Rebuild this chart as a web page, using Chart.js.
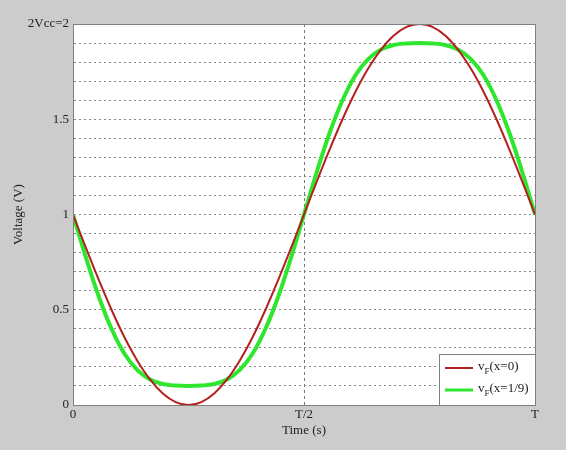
<!DOCTYPE html>
<html>
<head>
<meta charset="utf-8">
<script src="https://cdn.jsdelivr.net/npm/chart.js@4"></script>
<style>
  html, body { margin: 0; padding: 0; background: #cccccc; }
  #wrap { width: 566px; height: 450px; }
</style>
</head>
<body>
<div id="wrap"><canvas id="chart" width="566" height="450"></canvas></div>
<script>
// phase angle over one period (degrees), T = 360
const phase = [0, 10, 20, 30, 40, 50, 60, 70, 80, 90, 100, 110, 120, 130, 140, 150, 160, 170, 180,
  190, 200, 210, 220, 230, 240, 250, 260, 270, 280, 290, 300, 310, 320, 330, 340, 350, 360];

// v_F(x=0)
const vfX0 = [1, 0.826, 0.658, 0.5, 0.357, 0.234, 0.134, 0.06, 0.015, 0, 0.015, 0.06, 0.134, 0.234, 0.357, 0.5, 0.658, 0.826, 1,
  1.174, 1.342, 1.5, 1.643, 1.766, 1.866, 1.94, 1.985, 2, 1.985, 1.94, 1.866, 1.766, 1.643, 1.5, 1.342, 1.174, 1];

// v_F(x=1/9)
const vfX19 = [1, 0.776, 0.571, 0.4, 0.27, 0.184, 0.134, 0.11, 0.102, 0.1, 0.102, 0.11, 0.134, 0.184, 0.27, 0.4, 0.571, 0.776, 1,
  1.224, 1.429, 1.6, 1.73, 1.816, 1.866, 1.89, 1.898, 1.9, 1.898, 1.89, 1.866, 1.816, 1.73, 1.6, 1.429, 1.224, 1];

const xTickLabels = { 0: '0', 180: 'T/2', 360: 'T' };
const yTickLabels = { 0: '0', 5: '0.5', 10: '1', 15: '1.5', 20: '2Vcc=2' };

const seriesNames = ['x=0', 'x=1/9'];
const seriesColors = ['#b42020', '#2ee62e'];
const seriesWidths = [2, 4];

const serif = "'Liberation Serif', 'Times New Roman', serif";

// frame around the plot area plus the boxed legend in the lower right
const framePlugin = {
    id: 'frame',
    afterDraw(c) {
        const ctx = c.ctx;
        const a = c.chartArea;
        ctx.save();
        ctx.strokeStyle = '#808080';
        ctx.lineWidth = 1;
        ctx.strokeRect(a.left + 0.5, a.top + 0.5, a.right - a.left, a.bottom - a.top);

        // legend
        const bw = 96, bh = 51;
        const bx = a.right - bw, by = a.bottom - bh;
        ctx.fillStyle = '#ffffff';
        ctx.fillRect(bx, by, bw, bh);
        ctx.strokeRect(bx + 0.5, by + 0.5, bw, bh);
        seriesNames.forEach((name, i) => {
            const y = by + 14 + i * 22;
            ctx.strokeStyle = seriesColors[i];
            ctx.lineWidth = seriesWidths[i] === 2 ? 2 : 3;
            ctx.beginPath();
            ctx.moveTo(bx + 6, y);
            ctx.lineTo(bx + 34, y);
            ctx.stroke();
            ctx.fillStyle = '#222';
            ctx.textBaseline = 'alphabetic';
            ctx.textAlign = 'left';
            ctx.font = '13px ' + serif;
            let tx = bx + 39;
            ctx.fillText('v', tx, y + 2);
            tx += ctx.measureText('v').width;
            ctx.font = '9px ' + serif;
            ctx.fillText('F', tx, y + 6);
            tx += ctx.measureText('F').width;
            ctx.font = '13px ' + serif;
            ctx.fillText('(' + name + ')', tx, y + 2);
        });
        ctx.restore();
    }
};

const ctx = document.getElementById('chart').getContext('2d');
const chart = new Chart(ctx, {
    type: 'line',
    data: {
        datasets: seriesNames.map((name, i) => ({
            label: 'vF(' + name + ')',
            data: phase.map((p, j) => ({ x: p, y: [vfX0, vfX19][i][j] })),
            borderColor: seriesColors[i],
            borderWidth: seriesWidths[i],
            pointRadius: 0,
            tension: 0.4,
            fill: false
        }))
    },
    options: {
        responsive: false,
        animation: false,
        layout: { padding: { left: 0, top: 24, right: 31, bottom: 0 } },
        plugins: {
            legend: { display: false },
            tooltip: { enabled: false }
        },
        scales: {
            x: {
                type: 'linear',
                min: 0,
                max: 360,
                afterFit: s => { s.height = 45; },
                afterBuildTicks: s => { s.ticks = [0, 180, 360].map(v => ({ value: v })); },
                ticks: {
                    autoSkip: false,
                    maxRotation: 0,
                    padding: 2,
                    color: '#222',
                    font: { family: serif, size: 13 },
                    callback: v => xTickLabels[v]
                },
                grid: {
                    color: c => (c.tick && (c.tick.value === 0 || c.tick.value === 360)) ? 'rgba(0,0,0,0)' : '#777',
                    lineWidth: 1,
                    drawTicks: false
                },
                border: { display: true, color: '#808080', dash: [3, 3] },
                title: {
                    display: true,
                    text: 'Time (s)',
                    color: '#222',
                    font: { family: serif, size: 13 },
                    padding: { top: 0, bottom: 12 }
                }
            },
            y: {
                min: 0,
                max: 2,
                afterFit: s => { s.width = 73; },
                afterBuildTicks: s => {
                    const t = [];
                    for (let k = 0; k <= 20; k++) t.push({ value: k / 10 });
                    s.ticks = t;
                },
                ticks: {
                    autoSkip: false,
                    padding: 4,
                    color: '#222',
                    font: { family: serif, size: 13 },
                    callback: v => yTickLabels[Math.round(v * 10)] || ''
                },
                grid: {
                    color: c => (c.tick && (c.tick.value <= 0 || c.tick.value >= 2)) ? 'rgba(0,0,0,0)' : '#888',
                    lineWidth: 1,
                    drawTicks: false
                },
                border: { display: true, color: '#808080', dash: [2, 3] },
                title: {
                    display: true,
                    text: 'Voltage (V)',
                    color: '#222',
                    font: { family: serif, size: 13 },
                    padding: { top: 11, bottom: 0 }
                }
            }
        }
    },
    plugins: [{
        id: 'plotBg',
        beforeDraw(c) {
            const a = c.chartArea;
            c.ctx.save();
            c.ctx.fillStyle = '#ffffff';
            c.ctx.fillRect(a.left, a.top, a.right - a.left, a.bottom - a.top);
            c.ctx.restore();
        }
    }, framePlugin]
});
</script>
</body>
</html>
